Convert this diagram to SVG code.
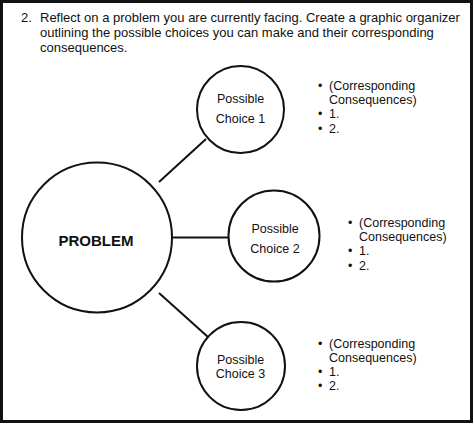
<svg xmlns="http://www.w3.org/2000/svg" width="474" height="424" viewBox="0 0 474 424">
<style>
text{font-family:"Liberation Sans",Arial,sans-serif;fill:#111}
.h{font-size:13px}
.c{font-size:12.5px;text-anchor:middle}
.b{font-size:12.5px}
.n circle{fill:#fff;stroke:#111;stroke-width:2}
#connectors line{stroke:#111;stroke-width:2}
</style>
<rect x="1.5" y="1.5" width="470" height="420" fill="#fff" stroke="#111" stroke-width="3"/>
<g id="header">
<text class="h" x="21" y="22">2.</text>
<text class="h" x="40" y="22">Reflect on a problem you are currently facing. Create a graphic organizer</text>
<text class="h" x="40" y="37">outlining the possible choices you can make and their corresponding</text>
<text class="h" x="40" y="52">consequences.</text>
</g>
<g id="connectors">
<line x1="159" y1="182" x2="206" y2="139"/>
<line x1="172" y1="237.5" x2="228" y2="237.5"/>
<line x1="159" y1="293" x2="208" y2="337"/>
</g>
<g id="problem" class="n">
<circle cx="97" cy="237.5" r="75"/>
<text x="96" y="246" style="font-size:15px;font-weight:bold;text-anchor:middle">PROBLEM</text>
</g>
<g id="choice1" class="n">
<circle cx="240.5" cy="109.5" r="43.5"/>
<text class="c" x="240.5" y="103">Possible</text>
<text class="c" x="240.5" y="123">Choice 1</text>
</g>
<g id="choice2" class="n">
<circle cx="274" cy="236" r="45.5"/>
<text class="c" x="275" y="233">Possible</text>
<text class="c" x="275" y="253">Choice 2</text>
</g>
<g id="choice3" class="n">
<circle cx="241" cy="366" r="44"/>
<text class="c" x="240.5" y="364">Possible</text>
<text class="c" x="240.5" y="378">Choice 3</text>
</g>
<g id="consequences1">
<text class="b" x="318" y="90">•</text><text class="b" x="329" y="90">(Corresponding</text>
<text class="b" x="329" y="104">Consequences)</text>
<text class="b" x="318" y="118">•</text><text class="b" x="329" y="118">1.</text>
<text class="b" x="318" y="133">•</text><text class="b" x="329" y="133">2.</text>
</g>
<g id="consequences2">
<text class="b" x="348" y="227">•</text><text class="b" x="359" y="227">(Corresponding</text>
<text class="b" x="359" y="241">Consequences)</text>
<text class="b" x="348" y="255">•</text><text class="b" x="359" y="255">1.</text>
<text class="b" x="348" y="270">•</text><text class="b" x="359" y="270">2.</text>
</g>
<g id="consequences3">
<text class="b" x="318" y="348">•</text><text class="b" x="329" y="348">(Corresponding</text>
<text class="b" x="329" y="362">Consequences)</text>
<text class="b" x="318" y="376">•</text><text class="b" x="329" y="376">1.</text>
<text class="b" x="318" y="390">•</text><text class="b" x="329" y="390">2.</text>
</g>
</svg>
